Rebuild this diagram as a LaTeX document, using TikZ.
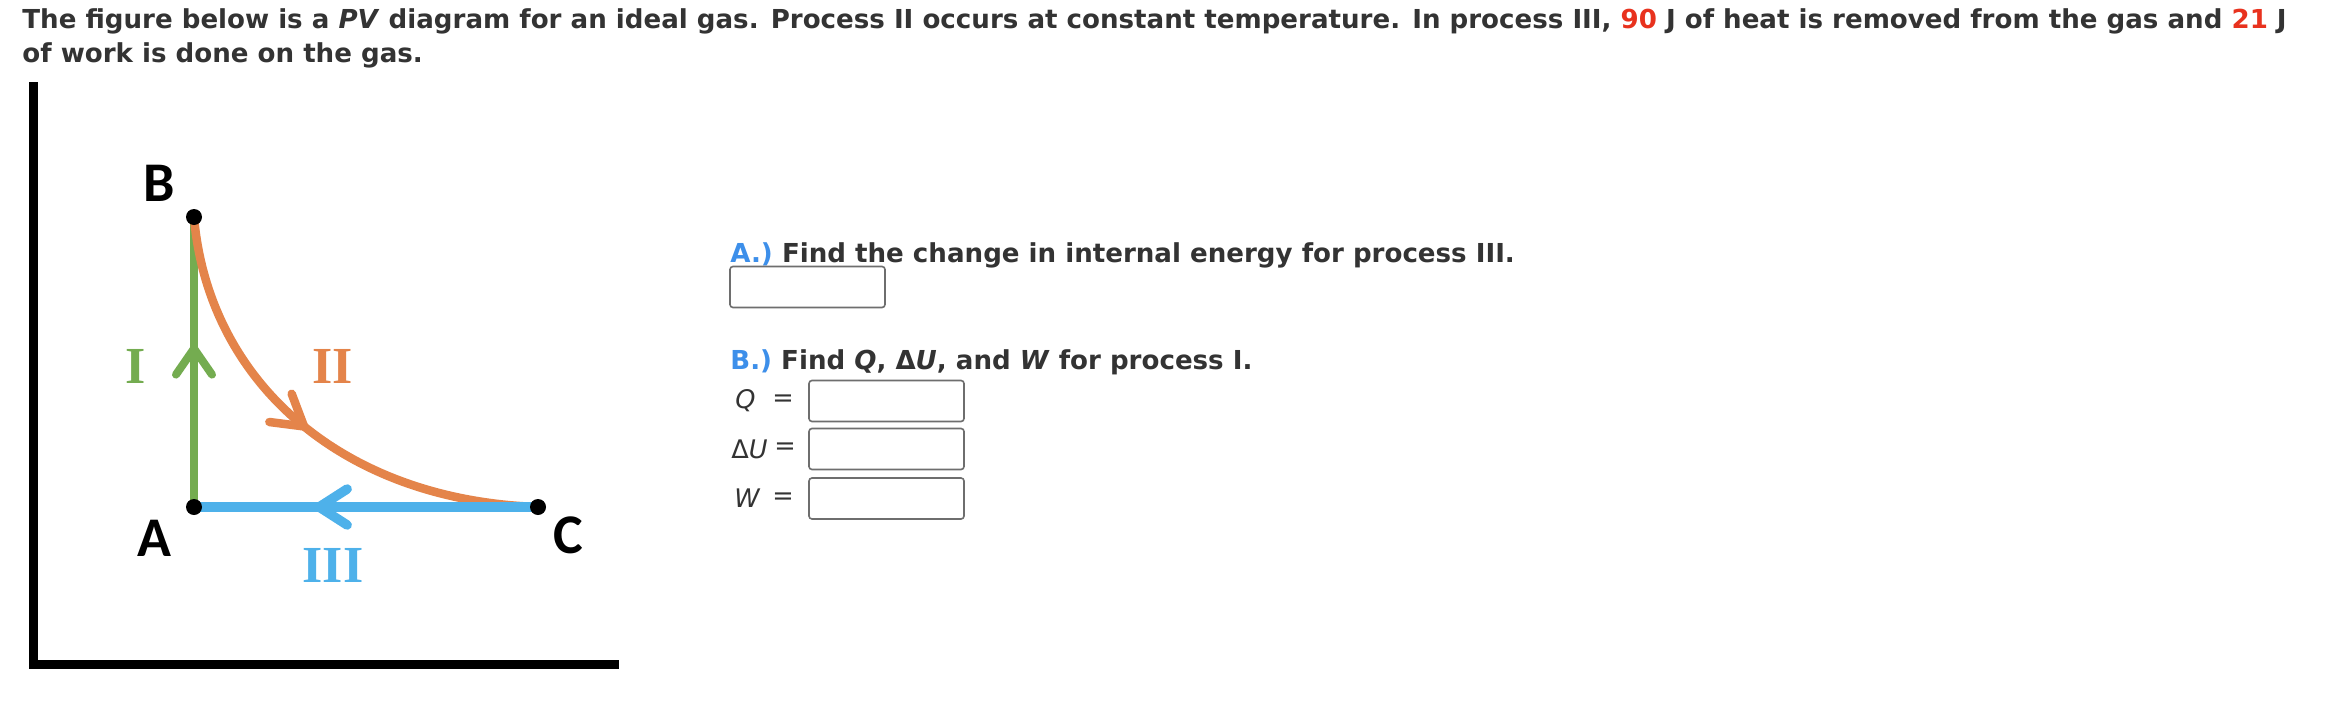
\documentclass[tikz,border=0pt]{standalone}
\usepackage{fontspec}
\setmainfont{DejaVu Sans}
\newfontfamily\ptfont{Carlito}
\newfontfamily\romfont{Liberation Serif}
\usetikzlibrary{arrows.meta,decorations.markings}

\definecolor{txtgray}{HTML}{333333}
\definecolor{numred}{HTML}{E8321E}
\definecolor{partblue}{HTML}{3D8FEA}
\definecolor{procgreen}{HTML}{74AC50}
\definecolor{procorange}{HTML}{E4844A}
\definecolor{procblue}{HTML}{4EB1EA}
\definecolor{boxgray}{HTML}{6E6E6E}

\tikzset{
  axis/.style={line width=4.5pt,line join=miter},
  dot/.style={circle,fill=black,inner sep=0pt,minimum size=8pt},
  ptlabel/.style={font=\ptfont\bfseries\fontsize{28}{28}\selectfont},
  romlabel/.style={font=\romfont\bfseries\fontsize{26}{26}\selectfont},
  qtext/.style={anchor=base west,inner sep=0pt,text=txtgray,font=\bfseries\fontsize{13.05}{16}\selectfont},
  lbltext/.style={inner sep=0pt,text=txtgray,font=\fontsize{12.8}{15}\selectfont},
  ansbox/.style={draw=boxgray,line width=0.8pt,rounded corners=1.5pt,minimum width=77.5pt,minimum height=20.5pt,inner sep=0pt},
  midarrow/.style 2 args={decoration={markings,mark=at position #1 with {\arrow{#2}}},postaction={decorate}},
}

\begin{document}
\begin{tikzpicture}[x=0.5pt,y=-0.5pt]
\fill[white] (0,0) rectangle (2344,712);
\useasboundingbox (0,0) rectangle (2344,712);

% question text
\node[qtext] (title1) at (22,28) {The figure below is a \textit{PV} diagram for an ideal gas. Process II occurs at constant temperature. In process III, {\color{numred}90} J of heat is removed from the gas and {\color{numred}21} J};
\node[qtext] (title2) at (22,62) {of work is done on the gas.};

% PV diagram
\coordinate (ytop) at (33,82);
\coordinate (orig) at (33,664);
\coordinate (xend) at (619,664);
\draw[axis] (ytop) -- (orig) -- (xend);

\coordinate (A) at (194,507);
\coordinate (B) at (194,217);
\coordinate (C) at (538,507);

\draw[color=procgreen,line width=4pt,midarrow={0.56}{Straight Barb[round,length=13pt,width=18pt]}] (A) -- (B);
\draw[color=procorange,line width=4.25pt,midarrow={0.5}{Straight Barb[round,length=15pt,width=18pt]}] (B) .. controls (208,380) and (340,500) .. (C);
\draw[color=procblue,line width=4.75pt,midarrow={0.65}{Straight Barb[round,length=14pt,width=18pt]}] (C) -- (A);

\node[dot] (dotA) at (A) {};
\node[dot] (dotB) at (B) {};
\node[dot] (dotC) at (C) {};

\node[ptlabel] (labA) at (154,538) {A};
\node[ptlabel] (labB) at (159,183) {B};
\node[ptlabel] (labC) at (568,535) {C};

\node[romlabel,text=procgreen] (labI) at (136,366) {I};
\node[romlabel,text=procorange] (labII) at (333,366) {II};
\node[romlabel,text=procblue] (labIII) at (333,565) {III};

% part A
\node[qtext] (partA) at (730,262) {{\color{partblue}A.)} Find the change in internal energy for process III.};
\node[ansbox] (boxA) at (807.5,287) {};

% part B
\node[qtext] (partB) at (730,369) {{\color{partblue}B.)} Find \textit{Q}, Δ\textit{U}, and \textit{W} for process I.};
\node[ansbox] (boxQ) at (886.5,401) {};
\node[ansbox] (boxdU) at (886.5,449) {};
\node[ansbox] (boxW) at (886.5,498.5) {};

\node[lbltext,anchor=west] (lblQ) at (735,401) {\textit{Q}};
\node[lbltext] (eqQ) at (783,401) {=};
\node[lbltext,anchor=west] (lbldU) at (731,449) {Δ\textit{U}};
\node[lbltext] (eqdU) at (785,449) {=};
\node[lbltext,anchor=west] (lblW) at (734,498.5) {\textit{W}};
\node[lbltext] (eqW) at (783,498.5) {=};
\end{tikzpicture}
\end{document}
